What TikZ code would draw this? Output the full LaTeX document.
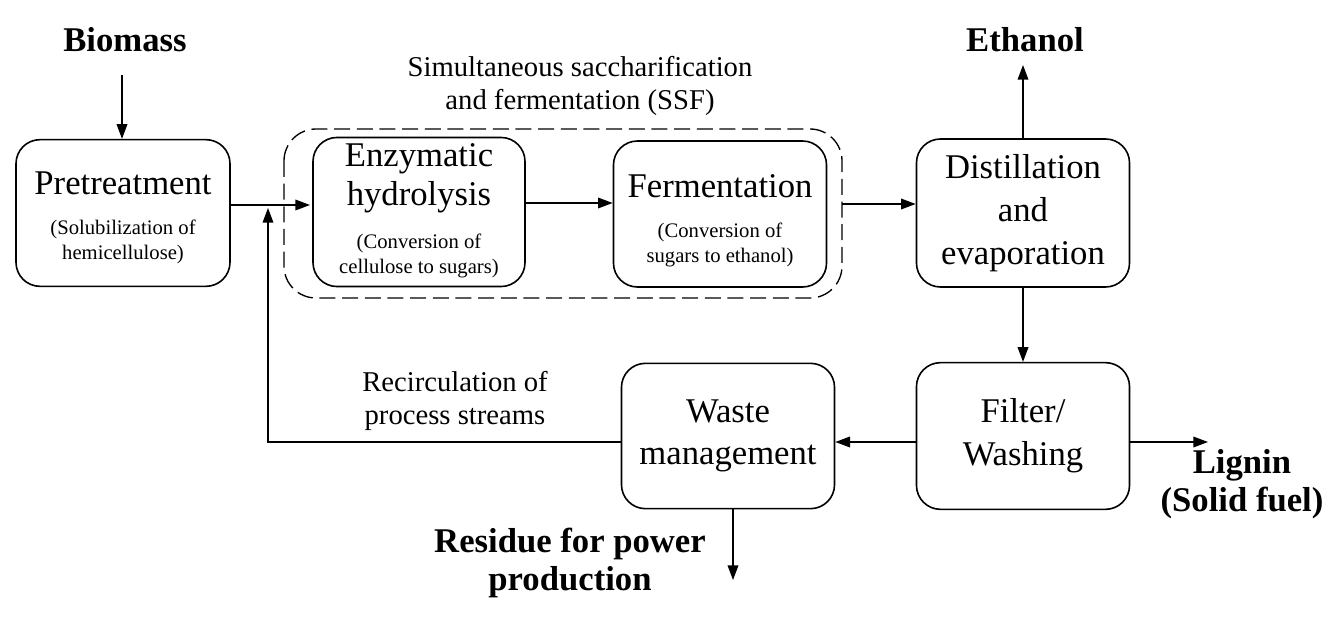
\documentclass[tikz,border=0pt]{standalone}
\usepackage{fontspec}
\setmainfont{Liberation Serif}
\usetikzlibrary{arrows.meta}
\begin{document}
\begin{tikzpicture}[x=0.75pt,y=-0.75pt,
  box/.style={draw,rounded corners=18pt,line width=1.2pt,align=center,inner sep=0pt},
  big/.style={font=\fontsize{26}{32}\selectfont},
  small/.style={font=\fontsize{15.5}{18.5}\selectfont},
  lab/.style={font=\fontsize{26}{29}\selectfont\bfseries,align=center},
  mid/.style={font=\fontsize{21.5}{25}\selectfont,align=center},
  ar/.style={-{Triangle[length=11pt,width=8pt]},line width=1pt}]
\useasboundingbox (0,0) rectangle (1328,623);
\draw[dashed,dash pattern=on 12pt off 5pt,rounded corners=24pt,line width=1pt] (284,129) rectangle (842,298);
\node[inner sep=0pt] (dashR) at (842,204) {};
\node[box,minimum width=160.5pt,minimum height=110pt] (pre) at (123,213) {};
\node[big] at (123,183) {Pretreatment};
\node[small,align=center] at (123,242) {(Solubilization of\\hemicellulose)};
\node[box,minimum width=159pt,minimum height=111.8pt] (enz) at (419,212) {};
\node[big,align=center,font=\fontsize{26}{29}\selectfont] at (419,178) {Enzymatic\\hydrolysis};
\node[small,align=center] at (419,256) {(Conversion of\\cellulose to sugars)};
\node[box,minimum width=159.8pt,minimum height=109.5pt] (fer) at (720,214) {};
\node[big] at (720,186) {Fermentation};
\node[small,align=center] at (720,245) {(Conversion of\\sugars to ethanol)};
\node[box,big,minimum width=159.8pt,minimum height=111pt] (dis) at (1023,213) {Distillation\\and\\evaporation};
\node[box,big,minimum width=159.8pt,minimum height=110pt] (fil) at (1023,436) {Filter/\\Washing};
\node[box,big,minimum width=159.8pt,minimum height=109pt] (was) at (728,436) {Waste\\management};
\node[lab] (bio) at (125,40) {Biomass};
\node[lab] (eth) at (1025,40) {Ethanol};
\node[lab] (lig) at (1242,484) {Lignin\\(Solid fuel)};
\node[lab] (res) at (570,563) {Residue for power\\production};
\node[mid] (rec) at (455,401) {Recirculation of\\process streams};
\node[mid] (ssf) at (580,86) {Simultaneous saccharification\\and fermentation (SSF)};
\coordinate (bioT) at (122,75);
\coordinate (ethT) at (1023,65);
\coordinate (ligT) at (1208,442);
\coordinate (resT) at (733,580);
\coordinate (recC) at (268,442);
\coordinate (recT) at (268,208);
\draw[ar] (bioT) -- (pre.north -| bioT);
\draw[ar] (dis.north) -- (ethT);
\draw[ar] (230,205) -- (310,205);
\draw[ar] (enz.east |- 0,203) -- (fer.west |- 0,203);
\draw[ar] (dashR.center) -- (dis.west |- dashR.center);
\draw[ar] (dis.south) -- (fil.north);
\draw[ar] (fil.west |- 0,442) -- (was.east |- 0,442);
\draw[ar] (fil.east |- 0,442) -- (ligT);
\draw[ar] (was.south -| resT) -- (resT);
\draw[ar] (was.west |- recC) -- (recC) -- (recT);
\end{tikzpicture}
\end{document}
